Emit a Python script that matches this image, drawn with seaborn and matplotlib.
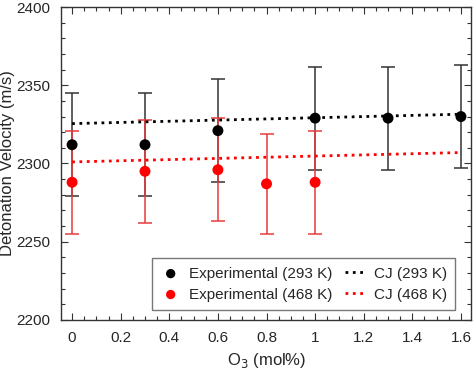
import numpy as np
import pandas as pd
import matplotlib
matplotlib.use("Agg")
import matplotlib.pyplot as plt
import seaborn as sns
from matplotlib.ticker import MultipleLocator

# experimental data, 293 K
x_293 = [0, 0.3, 0.6, 1.0, 1.3, 1.6]
v_293 = [2312, 2312, 2321, 2329, 2329, 2330]
err_293 = [33, 33, 33, 33, 33, 33]

# experimental data, 468 K
x_468 = [0, 0.3, 0.6, 0.8, 1.0]
v_468 = [2288, 2295, 2296, 2287, 2288]
err_468 = [33, 33, 33, 32, 33]

# CJ predictions
cj_x = [0, 1.6]
cj_293 = [2325.5, 2331.5]
cj_468 = [2301, 2307]

sns.set_theme(style="ticks")
plt.rcParams['font.family'] = ['Liberation Sans', 'DejaVu Sans']

fig = plt.figure(figsize=(4.74, 3.72), dpi=100)
ax = fig.add_axes([0.129, 0.140, 0.865, 0.841])

df293 = pd.DataFrame({'x': x_293, 'v': v_293})
df468 = pd.DataFrame({'x': x_468, 'v': v_468})
cj = pd.DataFrame({'x': cj_x, 'a': cj_293, 'b': cj_468})

ax.errorbar(x_293, v_293, yerr=err_293, fmt='none', ecolor='#333333',
            elinewidth=1.1, capsize=5, capthick=1.1, zorder=2)
ax.errorbar(x_468, v_468, yerr=err_468, fmt='none', ecolor='#e83a3a',
            elinewidth=1.1, capsize=5, capthick=1.1, zorder=2)

sns.lineplot(data=cj, x='x', y='a', color='black', linestyle=':', linewidth=2,
             ax=ax, label='CJ (293 K)', zorder=3)
sns.lineplot(data=cj, x='x', y='b', color='#ff0000', linestyle=':', linewidth=2,
             ax=ax, label='CJ (468 K)', zorder=3)
sns.scatterplot(data=df293, x='x', y='v', color='black', s=62, edgecolor='none',
                ax=ax, label='Experimental (293 K)', zorder=4)
sns.scatterplot(data=df468, x='x', y='v', color='#ff0000', s=62, edgecolor='none',
                ax=ax, label='Experimental (468 K)', zorder=4)

ax.set_xlim(-0.045, 1.642)
ax.set_ylim(2200, 2400)
ax.xaxis.set_major_locator(MultipleLocator(0.2))
ax.xaxis.set_minor_locator(MultipleLocator(0.05))
ax.yaxis.set_major_locator(MultipleLocator(50))
ax.yaxis.set_minor_locator(MultipleLocator(10))
ax.set_xticks([0, 0.2, 0.4, 0.6, 0.8, 1.0, 1.2, 1.4, 1.6])
ax.set_xticklabels(['0', '0.2', '0.4', '0.6', '0.8', '1', '1.2', '1.4', '1.6'])
ax.tick_params(which='both', direction='in', top=True, right=True, labelsize=11,
               color='#333333')
ax.tick_params(which='major', length=5, width=0.8, pad=8)
ax.tick_params(which='minor', length=3, width=0.8)
for s in ax.spines.values():
    s.set_linewidth(1)
    s.set_color('#333333')

ax.set_xlabel('O$_3$ (mol%)', fontsize=12, labelpad=4)
ax.set_ylabel('Detonation Velocity (m/s)', fontsize=12, labelpad=1)

h, l = ax.get_legend_handles_labels()
order = [l.index('Experimental (293 K)'), l.index('Experimental (468 K)'),
         l.index('CJ (293 K)'), l.index('CJ (468 K)')]
leg = ax.legend([h[i] for i in order], [l[i] for i in order], ncol=2,
                loc='lower right', bbox_to_anchor=(0.961, 0.032), borderaxespad=0,
                fontsize=11, frameon=True, fancybox=False, edgecolor='#555555',
                handlelength=1.4, columnspacing=0.8, handletextpad=0.5,
                borderpad=0.55, labelspacing=0.45, markerscale=0.85)
leg.get_frame().set_linewidth(1)

fig.savefig('out.png', dpi=100)
